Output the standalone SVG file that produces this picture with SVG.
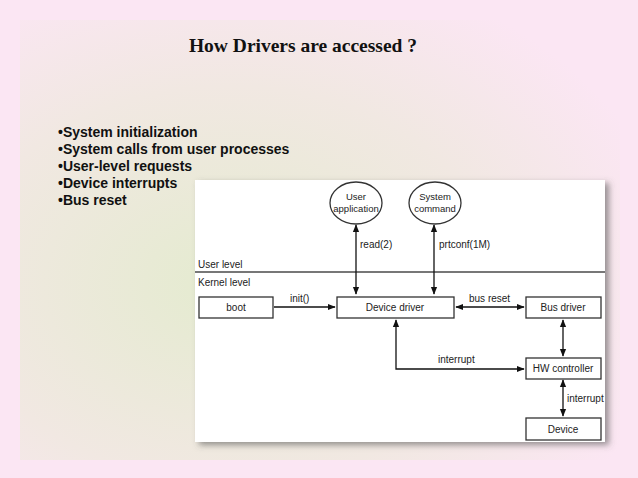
<svg xmlns="http://www.w3.org/2000/svg" width="638" height="478" viewBox="0 0 638 478">
<defs>
<radialGradient id="bg" cx="0.35" cy="0.6" r="0.75">
<stop offset="0" stop-color="#e4ebcf"/><stop offset="0.6" stop-color="#f1e8e2"/><stop offset="1" stop-color="#fbe6f3"/>
</radialGradient>
<marker id="a" viewBox="0 0 10 10" refX="9" refY="5" markerWidth="6" markerHeight="6" orient="auto-start-reverse"><path d="M0,1 L10,5 L0,9 z" fill="#111"/></marker>
<filter id="sh" x="-5%" y="-5%" width="115%" height="115%"><feDropShadow dx="4" dy="3" stdDeviation="3" flood-color="#555" flood-opacity="0.6"/></filter>
<style>
.b{font-family:"Liberation Sans",Arial,sans-serif;font-weight:bold;font-size:14px;fill:#111}
.t{font-family:"Liberation Sans",Arial,sans-serif;font-size:10px;fill:#222}
.e{font-family:"Liberation Sans",Arial,sans-serif;font-size:9.5px;fill:#222}
.n{fill:#fff;stroke:#333;stroke-width:1.3}
.c{fill:none;stroke:#111;stroke-width:1.3}
</style>
</defs>
<rect width="638" height="478" fill="#fbe6f3"/>
<rect x="20" y="20" width="600" height="440" fill="url(#bg)"/>
<text x="303" y="52" text-anchor="middle" font-family="Liberation Serif,serif" font-weight="bold" font-size="19.5" fill="#111">How Drivers are accessed ?</text>
<text class="b" x="58" y="137">•System initialization</text>
<text class="b" x="58" y="154">•System calls from user processes</text>
<text class="b" x="58" y="171">•User-level requests</text>
<text class="b" x="58" y="188">•Device interrupts</text>
<text class="b" x="58" y="205">•Bus reset</text>
<rect x="195" y="180" width="410" height="262" fill="#fff" filter="url(#sh)"/>
<line x1="195" y1="272" x2="605" y2="272" stroke="#777" stroke-width="2"/>
<text class="t" x="198" y="268">User level</text>
<text class="t" x="198" y="286">Kernel level</text>
<g id="connectors">
<line class="c" x1="356" y1="225" x2="356" y2="294" marker-start="url(#a)" marker-end="url(#a)"/>
<line class="c" x1="434" y1="225" x2="434" y2="294" marker-start="url(#a)" marker-end="url(#a)"/>
<line class="c" x1="274" y1="307" x2="335" y2="307" marker-end="url(#a)"/>
<line class="c" x1="456" y1="307" x2="524" y2="307" marker-start="url(#a)" marker-end="url(#a)"/>
<path class="c" d="M396,320 V369 H524" marker-start="url(#a)" marker-end="url(#a)"/>
<line class="c" x1="563" y1="320" x2="563" y2="356" marker-start="url(#a)" marker-end="url(#a)"/>
<line class="c" x1="563" y1="380" x2="563" y2="416" marker-start="url(#a)" marker-end="url(#a)"/>
<text class="t" x="360" y="248">read(2)</text>
<text class="t" x="439" y="248">prtconf(1M)</text>
<text class="t" x="290" y="302">init()</text>
<text class="t" x="469" y="302">bus reset</text>
<text class="t" x="438" y="363">interrupt</text>
<text class="t" x="567" y="402">interrupt</text>
</g>
<g id="user-app"><ellipse class="n" cx="356" cy="203" rx="26" ry="21"/><text class="e" x="356" y="200" text-anchor="middle">User</text><text class="e" x="356" y="212" text-anchor="middle">application</text></g>
<g id="sys-cmd"><ellipse class="n" cx="435" cy="203" rx="26" ry="21"/><text class="e" x="435" y="200" text-anchor="middle">System</text><text class="e" x="435" y="212" text-anchor="middle">command</text></g>
<g id="boot"><rect class="n" x="199" y="297" width="74" height="21"/><text class="t" x="236" y="311" text-anchor="middle">boot</text></g>
<g id="device-driver"><rect class="n" x="337" y="297" width="117" height="21"/><text class="t" x="395" y="311" text-anchor="middle">Device driver</text></g>
<g id="bus-driver"><rect class="n" x="526" y="297" width="75" height="21"/><text class="t" x="563" y="311" text-anchor="middle">Bus driver</text></g>
<g id="hw-controller"><rect class="n" x="526" y="358" width="75" height="21"/><text class="t" x="563" y="372" text-anchor="middle">HW controller</text></g>
<g id="device"><rect class="n" x="526" y="418" width="75" height="22"/><text class="t" x="563" y="433" text-anchor="middle">Device</text></g>
</svg>
